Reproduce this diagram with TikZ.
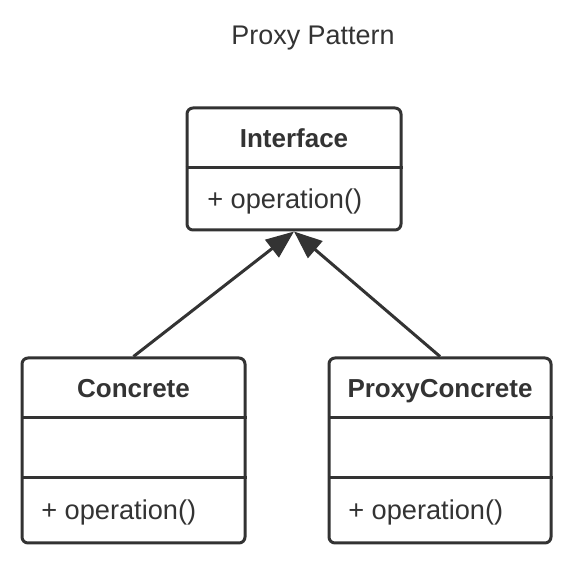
\documentclass[tikz,border=0pt]{standalone}
\usepackage{fontspec}
\setmainfont{Liberation Sans}
\usetikzlibrary{arrows.meta,calc}
\definecolor{ink}{HTML}{333333}
\tikzset{
  classbox/.style={draw=ink, line width=2.25pt, rounded corners=4.5pt, rectangle, inner sep=0pt, fill=white},
  divider/.style={draw=ink, line width=2.25pt},
  cname/.style={font=\fontsize{19.5}{22}\selectfont\bfseries, text=ink, inner sep=0pt, anchor=center, text height=14pt, text depth=4pt},
  member/.style={font=\fontsize{20.4}{23}\selectfont, text=ink, inner sep=0pt, anchor=west},
  inherit/.style={draw=ink, line width=2.25pt, -{Triangle[length=21pt,width=16.5pt]}},
}
\begin{document}
\begin{tikzpicture}[x=0.75pt,y=-0.75pt]
\useasboundingbox (0,0) rectangle (572,566);
\node[font=\fontsize{20.2}{23}\selectfont, text=ink, inner sep=0pt] (title) at (313,38) {Proxy Pattern};
% Interface
\node[classbox, minimum width=160.5pt, minimum height=91.5pt] (i) at (294,169) {};
\draw[divider] ($(i.west)+(0,-1)$) coordinate (id1) -- (id1 -| i.east);
\node[cname] (iname) at (294,141) {Interface};
\node[member] (iop) at (207,201) {+ operation()};
% Concrete
\node[classbox, minimum width=167.25pt, minimum height=138.75pt] (c) at (133.5,450.5) {};
\coordinate (cd1) at (22,418);
\coordinate (cd2) at (22,478);
\draw[divider] (cd1) -- (cd1 -| c.east);
\draw[divider] (cd2) -- (cd2 -| c.east);
\node[cname] (cname) at (133.5,391) {Concrete};
\node[member] (cop) at (41,512) {+ operation()};
% ProxyConcrete
\node[classbox, minimum width=166.5pt, minimum height=138.75pt] (p) at (440,450.5) {};
\coordinate (pd1) at (329,418);
\coordinate (pd2) at (329,478);
\draw[divider] (pd1) -- (pd1 -| p.east);
\draw[divider] (pd2) -- (pd2 -| p.east);
\node[cname] (pname) at (440,391) {ProxyConcrete};
\node[member] (pop) at (348,512) {+ operation()};
% arrows
\draw[inherit] (c.north) -- (i.south);
\draw[inherit] (p.north) -- (i.south);
\end{tikzpicture}
\end{document}
